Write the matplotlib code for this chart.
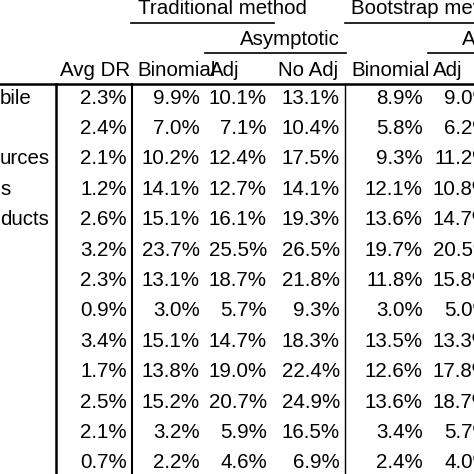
import matplotlib.pyplot as plt

plt.rcParams["font.family"] = ["Liberation Sans", "DejaVu Sans"]

ROW_LABELS = ["bile", "", "urces", "s", "ducts", "", "", "", "", "", "", "", ""]
AVG_DR = ["2.3%", "2.4%", "2.1%", "1.2%", "2.6%", "3.2%", "2.3%", "0.9%", "3.4%", "1.7%", "2.5%", "2.1%", "0.7%"]
TRAD_BINOMIAL = ["9.9%", "7.0%", "10.2%", "14.1%", "15.1%", "23.7%", "13.1%", "3.0%", "15.1%", "13.8%", "15.2%", "3.2%", "2.2%"]
TRAD_ADJ = ["10.1%", "7.1%", "12.4%", "12.7%", "16.1%", "25.5%", "18.7%", "5.7%", "14.7%", "19.0%", "20.7%", "5.9%", "4.6%"]
TRAD_NOADJ = ["13.1%", "10.4%", "17.5%", "14.1%", "19.3%", "26.5%", "21.8%", "9.3%", "18.3%", "22.4%", "24.9%", "16.5%", "6.9%"]
BOOT_BINOMIAL = ["8.9%", "5.8%", "9.3%", "12.1%", "13.6%", "19.7%", "11.8%", "3.0%", "13.5%", "12.6%", "13.6%", "3.4%", "2.4%"]
BOOT_ADJ = ["9.0%", "6.2%", "11.2%", "10.8%", "14.7%", "20.5%", "15.8%", "5.0%", "13.3%", "17.8%", "18.7%", "5.7%", "4.0%"]

COLUMNS = [AVG_DR, TRAD_BINOMIAL, TRAD_ADJ, TRAD_NOADJ, BOOT_BINOMIAL, BOOT_ADJ]
COL_HEADERS = ["Avg DR", "Binomial", "Adj", "No Adj", "Binomial", "Adj"]
COL_RIGHT = [127, 200, 267, 340, 423, 491]
HEAD_LEFT = [60, 137, 210, 278, 351, 433]

FS = 14.8

fig = plt.figure(figsize=(4.74, 4.74), dpi=100)
ax = fig.add_axes([0, 0, 1, 1])
ax.set_xlim(0, 474)
ax.set_ylim(474, 0)
ax.axis("off")

# group headers
ax.text(222, 8, "Traditional method", ha="center", va="center", fontsize=FS)
ax.plot([131, 274], [23, 23], color="black", lw=1.2)
ax.text(351, 8, "Bootstrap method", ha="left", va="center", fontsize=FS)
ax.plot([345, 480], [23, 23], color="black", lw=1.2)
ax.text(340, 39, "Asymptotic", ha="right", va="center", fontsize=FS)
ax.plot([205, 346], [53, 53], color="black", lw=1.2)
ax.text(462, 39, "Asymptotic", ha="left", va="center", fontsize=FS)
ax.plot([428, 480], [53, 53], color="black", lw=1.2)

for x, h in zip(HEAD_LEFT, COL_HEADERS):
    ax.text(x, 70, h, ha="left", va="center", fontsize=FS)

ax.plot([0, 474], [84, 84], color="black", lw=1.8)
ax.plot([56, 56], [84, 480], color="black", lw=1.8)
ax.plot([132, 132], [84, 480], color="black", lw=1.5)
ax.plot([345, 345], [84, 480], color="black", lw=1.0)

for i, lab in enumerate(ROW_LABELS):
    y = 98 + i * 30.4
    ax.text(0, y, lab, ha="left", va="center", fontsize=FS)
    for x, col in zip(COL_RIGHT, COLUMNS):
        ax.text(x, y, col[i], ha="right", va="center", fontsize=FS)

fig.savefig("out.png", dpi=100)
